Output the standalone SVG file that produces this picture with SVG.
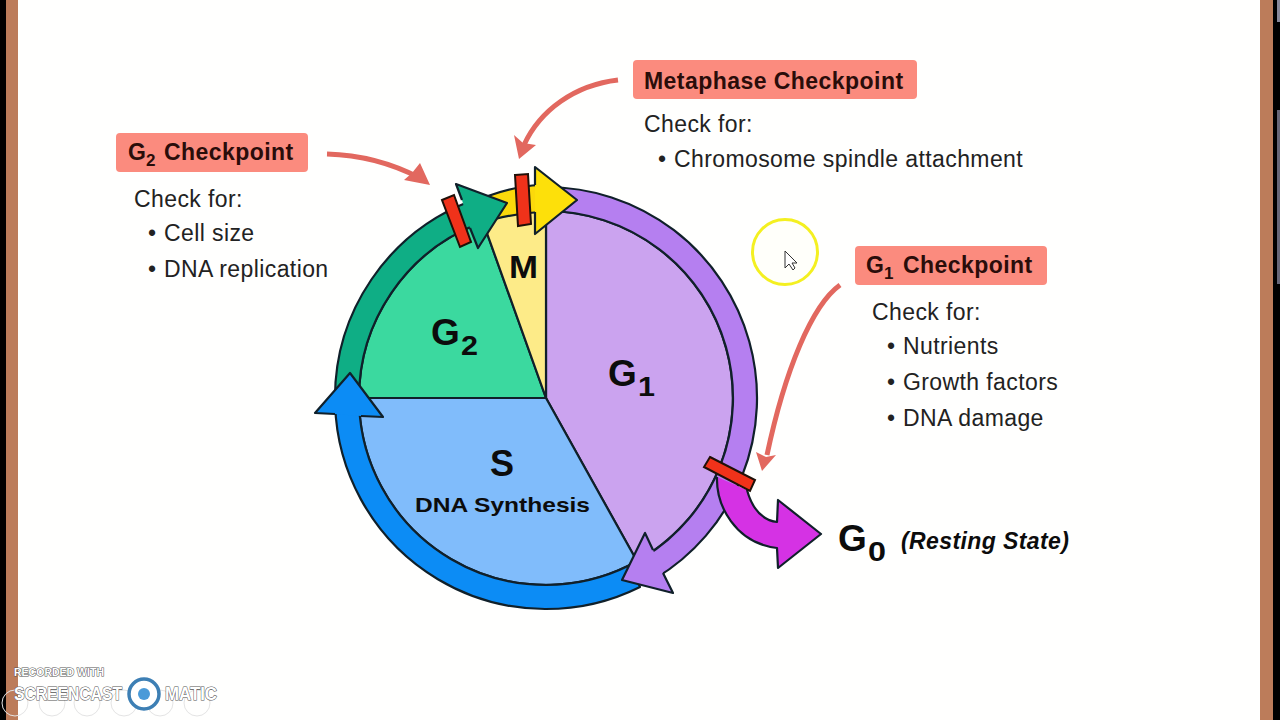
<svg xmlns="http://www.w3.org/2000/svg" width="1280" height="720" viewBox="0 0 1280 720">
<style>
.t{font-family:"Liberation Sans",Arial,sans-serif;fill:#222;font-size:23px;letter-spacing:.4px}
.h{font-family:"Liberation Sans",Arial,sans-serif;fill:#2a0d0a;font-size:23px;font-weight:700;letter-spacing:.45px}
.s{font-family:"Liberation Sans",Arial,sans-serif;fill:#2a0d0a;font-size:17px;font-weight:700}
.b{font-family:"Liberation Sans",Arial,sans-serif;fill:#0c0c0c;font-weight:700}
.l{stroke:#10202a;stroke-width:2.2;stroke-linejoin:round}
.box{fill:#fb8b7e}
.arr{fill:none;stroke:#e2685f;stroke-width:5}
.ah{fill:#e2685f}
.red{fill:#f0321a;stroke:#201008;stroke-width:2}
.w{font-family:"Liberation Sans",sans-serif;font-weight:700;fill:#fff;stroke:#555;stroke-width:1.1px;paint-order:stroke}
.c{fill:none;stroke:#e4e4e4;stroke-width:1}
</style>
<rect width="1280" height="720" fill="#fffffe"/>
<g id="frame">
<rect x="0" y="0" width="6" height="720" fill="#000"/><rect x="6" y="0" width="12" height="720" fill="#bc7c5a"/>
<rect x="1260" y="0" width="13" height="720" fill="#bc7c5a"/><rect x="1273" y="0" width="7" height="720" fill="#000"/>
<rect x="1277" y="110" width="3" height="174" fill="#667"/><rect x="1277" y="0" width="3" height="22" fill="#889"/>
</g>
<g id="node-G1"><path class="l" fill="#cba3ef" d="M546 398V211A187 187 0 0 1 637 561.3Z"/></g>
<g id="node-S"><path class="l" fill="#80bcfb" d="M546 398L637 561.3A187 187 0 0 1 359 398Z"/></g>
<g id="node-G2"><path class="l" fill="#3bd99f" d="M546 398H359A187 187 0 0 1 483 222Z"/></g>
<g id="node-M"><path class="l" fill="#fdeb88" d="M546 398L483 222A187 187 0 0 1 546 211Z"/></g>
<g id="ring">
<path class="l" fill="#b57ff0" d="M546 187A211 211 0 0 1 655 578.67L644.3 557.08A187 187 0 0 0 546 211Z"/>
<path class="l" fill="#0c8cf5" d="M640 586.9A211 211 0 0 1 335.1 405H359.13A187 187 0 0 0 630 565.07Z"/>
<path class="l" fill="#0fae85" d="M335 400A211 211 0 0 1 470 201.2L478 223.8A187 187 0 0 0 359 400Z"/>
<path class="l" fill="#fbd90b" d="M488 196C505 190 520 186 540 185V212C525 213 510 215 495 219Z"/>
</g>
<g id="arrowheads">
<path class="l" fill="#fde00a" d="M535 185V167L577 200L535 234V212"/>
<path class="l" fill="#0fae85" d="M462 200L456 184L507 203L478 248L470 228"/>
<path class="l" fill="#0c8cf5" d="M335 414L315 413L350 373L383 417L361 416"/>
<path class="l" fill="#b57ff0" d="M653 550L645 533L622 580L673 593L663 573"/>
<path class="l" fill="#d532e4" d="M717 477C716 505 735 543 777 548L778 568L821 534L778 500L777 522C762 520 752 508 747 490"/>
</g>
<g id="checkpoints">
<polygon class="red" points="442,200 454,195 471,242 460,247"/>
<polygon class="red" points="515,175 528,174 531,224 518,226"/>
<polygon class="red" points="710,457 755,480 750,491 704,467"/>
</g>
<g id="connectors">
<path class="arr" d="M327 154C365 155 395 165 420 178"/><polygon class="ah" points="430,185 404,180 412,173 420,163"/>
<path class="arr" d="M618 80C575 85 540 110 524 145"/><polygon class="ah" points="519,159 514,135 523,143 536,145"/>
<path class="arr" d="M840 285C812 305 785 370 767 455"/><polygon class="ah" points="762,471 756,452 766,457 776,455"/>
</g>
<g id="node-m-check"><rect class="box" x="633" y="60" width="284" height="39" rx="4"/><text class="h" x="644" y="89">Metaphase Checkpoint</text>
<text class="t" x="644" y="132">Check for:</text><text class="t" x="658" y="167">•</text><text class="t" x="674" y="167">Chromosome spindle attachment</text></g>
<g id="node-g2-check"><rect class="box" x="116" y="133" width="192" height="39" rx="4"/><text class="h" x="128" y="160">G</text><text class="s" x="146" y="166">2</text><text class="h" x="164" y="160">Checkpoint</text>
<text class="t" x="134" y="207">Check for:</text><text class="t" x="148" y="241">•</text><text class="t" x="164" y="241">Cell size</text><text class="t" x="148" y="277">•</text><text class="t" x="164" y="277">DNA replication</text></g>
<g id="node-g1-check"><rect class="box" x="855" y="246" width="192" height="39" rx="4"/><text class="h" x="866" y="273">G</text><text class="s" x="884" y="279">1</text><text class="h" x="903" y="273">Checkpoint</text>
<text class="t" x="872" y="320">Check for:</text><text class="t" x="887" y="354">•</text><text class="t" x="903" y="354">Nutrients</text><text class="t" x="887" y="390">•</text><text class="t" x="903" y="390">Growth factors</text><text class="t" x="887" y="426">•</text><text class="t" x="903" y="426">DNA damage</text></g>
<g id="labels">
<text class="b" x="509" y="278" font-size="31" textLength="29" lengthAdjust="spacingAndGlyphs">M</text>
<text class="b" x="431" y="345" font-size="37">G</text><text class="b" x="461" y="355" font-size="27" textLength="17" lengthAdjust="spacingAndGlyphs">2</text>
<text class="b" x="608" y="386" font-size="37">G</text><text class="b" x="638" y="396" font-size="27" textLength="17" lengthAdjust="spacingAndGlyphs">1</text>
<text class="b" x="490" y="476" font-size="36">S</text>
<text class="b" x="415" y="512" font-size="21" textLength="175" lengthAdjust="spacingAndGlyphs">DNA Synthesis</text>
<text class="b" x="838" y="551" font-size="37">G</text><text class="b" x="868" y="561" font-size="27" textLength="18" lengthAdjust="spacingAndGlyphs">0</text>
<text class="b" x="901" y="549" font-size="23" font-style="italic" letter-spacing=".4">(Resting State)</text>
</g>
<g id="cursor">
<circle cx="785" cy="252" r="32.5" fill="#fffffa" stroke="#f4f020" stroke-width="3"/>
<path d="M785 251V268L789 264L793 270L795 268L792 263H797Z" fill="#fff" stroke="#333" stroke-width="1"/>
</g>
<g id="watermark">
<circle class="c" cx="15" cy="703" r="13"/><circle class="c" cx="52" cy="703" r="13"/><circle class="c" cx="87" cy="703" r="13"/><circle class="c" cx="124" cy="703" r="13"/><circle class="c" cx="160" cy="703" r="13"/><circle class="c" cx="197" cy="703" r="13"/>
<text class="w" x="14" y="676" font-size="11" textLength="90" lengthAdjust="spacingAndGlyphs">RECORDED WITH</text>
<text class="w" x="14" y="700" font-size="19" textLength="108" lengthAdjust="spacingAndGlyphs">SCREENCAST</text>
<circle cx="144" cy="694" r="15" fill="#fff" stroke="#3d7fb4" stroke-width="3.5"/><circle cx="144" cy="694" r="6" fill="#4a9ad8"/>
<text class="w" x="165" y="700" font-size="19" textLength="52" lengthAdjust="spacingAndGlyphs">MATIC</text>
</g>
</svg>
